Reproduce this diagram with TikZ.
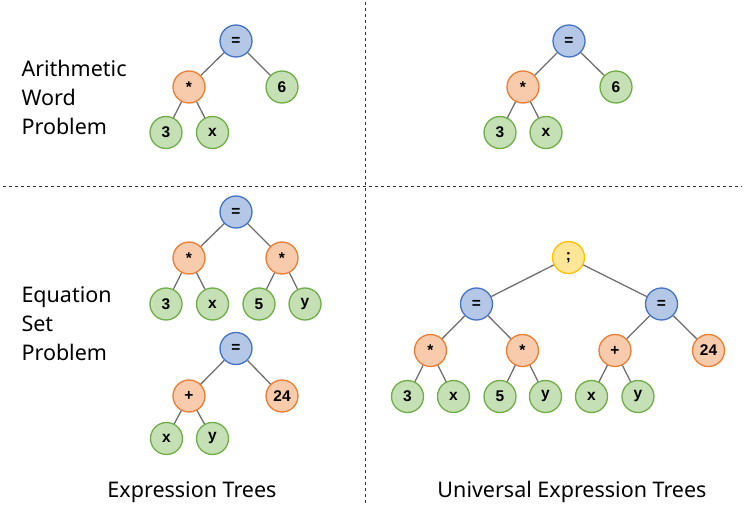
\documentclass[tikz,border=0pt]{standalone}
\usepackage{fontspec}
\setmainfont{Noto Sans}
\newfontfamily\nodefont{Liberation Sans}
\begin{document}
\begin{tikzpicture}[x=1pt,y=-1pt,
  tn/.style={circle,minimum size=32pt,inner sep=0pt,line width=1.3pt,font=\nodefont\bfseries\fontsize{15.5}{15.5}\selectfont},
  bl/.style={tn,draw={rgb,255:red,68;green,114;blue,196},fill={rgb,255:red,180;green,199;blue,231}},
  og/.style={tn,draw={rgb,255:red,237;green,125;blue,49},fill={rgb,255:red,248;green,203;blue,173}},
  gn/.style={tn,draw={rgb,255:red,112;green,173;blue,71},fill={rgb,255:red,197;green,224;blue,180}},
  yl/.style={tn,draw={rgb,255:red,255;green,192;blue,0},fill={rgb,255:red,255;green,230;blue,153}},
  ed/.style={draw={rgb,255:red,110;green,110;blue,110},line width=1.3pt},
  sep/.style={dashed,line width=0.9pt,black!80},
  lbl/.style={font=\fontsize{21.5}{29}\selectfont,align=left,anchor=west},
  captxt/.style={font=\fontsize{21.5}{24}\selectfont}]
\useasboundingbox (0,0) rectangle (745,505);
\coordinate (h1) at (3,186.5);
\coordinate (h2) at (742,186.5);
\coordinate (v1) at (365,2);
\coordinate (v2) at (365,503);
\draw[sep] (h1) -- (h2);
\draw[sep] (v1) -- (v2);
% labels
\node[lbl] (t1) at (18,97) {Arithmetic\\Word\\Problem};
\node[lbl] (t2) at (18,324) {Equation\\Set\\Problem};
\node[captxt] (c1) at (192,492) {Expression Trees};
\node[captxt] (c2) at (572,492) {Universal Expression Trees};
% tree A
\node[bl] (a0) at (236,41) {=};
\node[og] (a1) at (189,87) {*};
\node[gn] (a2) at (282,87) {6};
\node[gn] (a3) at (166,132.5) {3};
\node[gn] (a4) at (212.5,132.5) {x};
\draw[ed] (a0)--(a1) (a0)--(a2) (a1)--(a3) (a1)--(a4);
% tree B
\node[bl] (b0) at (569,41) {=};
\node[og] (b1) at (523,87) {*};
\node[gn] (b2) at (616,87) {6};
\node[gn] (b3) at (500,132.5) {3};
\node[gn] (b4) at (546,132.5) {x};
\draw[ed] (b0)--(b1) (b0)--(b2) (b1)--(b3) (b1)--(b4);
% tree C
\node[bl] (c0) at (236,212) {=};
\node[og] (cl) at (189,258) {*};
\node[og] (cr) at (282,258) {*};
\node[gn] (c3) at (166,304) {3};
\node[gn] (c4) at (212.5,304) {x};
\node[gn] (c5) at (259,304) {5};
\node[gn] (c6) at (305,304) {y};
\draw[ed] (c0)--(cl) (c0)--(cr) (cl)--(c3) (cl)--(c4) (cr)--(c5) (cr)--(c6);
% tree D
\node[bl] (d0) at (236,348.5) {=};
\node[og] (d1) at (189,396) {+};
\node[og] (d2) at (282,396) {24};
\node[gn] (d3) at (166.5,438.5) {x};
\node[gn] (d4) at (212.5,438.5) {y};
\draw[ed] (d0)--(d1) (d0)--(d2) (d1)--(d3) (d1)--(d4);
% tree E
\node[yl] (e0) at (568.5,257.5) {;};
\node[bl] (el) at (476.5,304) {=};
\node[bl] (er) at (661.5,304) {=};
\node[og] (e1) at (430.5,350.5) {*};
\node[og] (e2) at (522.5,350.5) {*};
\node[og] (e3) at (615,350.5) {+};
\node[og] (e4) at (708.5,350.5) {24};
\node[gn] (f1) at (407.5,396.5) {3};
\node[gn] (f2) at (453.5,396.5) {x};
\node[gn] (f3) at (500,396.5) {5};
\node[gn] (f4) at (545.5,396.5) {y};
\node[gn] (f5) at (591.5,396.5) {x};
\node[gn] (f6) at (638,396.5) {y};
\draw[ed] (e0)--(el) (e0)--(er) (el)--(e1) (el)--(e2) (er)--(e3) (er)--(e4)
  (e1)--(f1) (e1)--(f2) (e2)--(f3) (e2)--(f4) (e3)--(f5) (e3)--(f6);
\end{tikzpicture}
\end{document}
